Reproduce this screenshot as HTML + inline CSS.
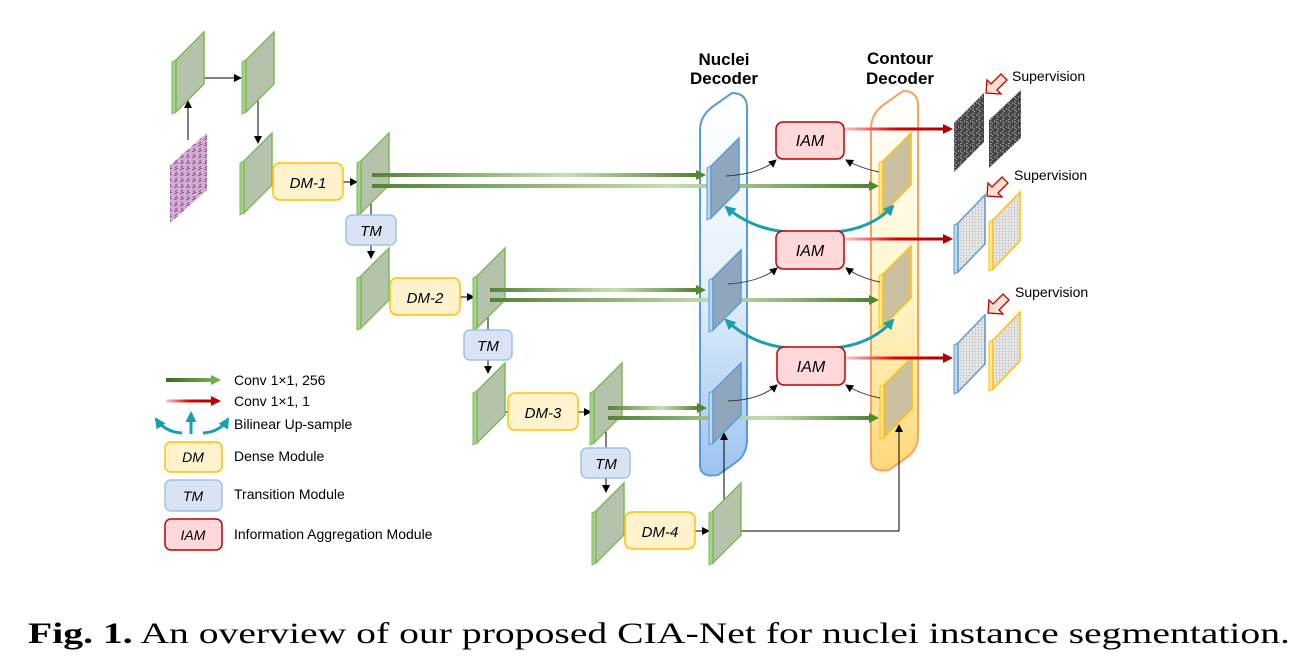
<!DOCTYPE html>
<html><head><meta charset="utf-8"><style>
html,body{margin:0;padding:0;background:#fff}
svg{display:block}
.t{font-family:"Liberation Sans",sans-serif;}
</style></head><body>
<svg width="1316" height="660" viewBox="0 0 1316 660" xmlns="http://www.w3.org/2000/svg">
<defs>
<symbol id="gp" viewBox="0 0 32 80" width="32" height="80" overflow="visible">
 <polygon points="0,30 4,28 4,80 0,82" fill="#a9d08e" stroke="#7dbb55" stroke-width="1"/>
 <polygon points="4,28 32,0 32,52 4,80" fill="#b5c3ad" stroke="#7dbb55" stroke-width="1.5"/>
</symbol>
<symbol id="bp" viewBox="0 0 32 80" width="32" height="80" overflow="visible">
 <polygon points="0,30 4,28 4,80 0,82" fill="#bdd7ee" stroke="#5b9bd5" stroke-width="1"/>
 <polygon points="4,28 32,0 32,52 4,80" fill="#8fa6bd" stroke="#5b9bd5" stroke-width="1.5"/>
</symbol>
<symbol id="yp" viewBox="0 0 32 80" width="32" height="80" overflow="visible">
 <polygon points="0,30 4,28 4,80 0,82" fill="#ffe699" stroke="#ffc000" stroke-width="1"/>
 <polygon points="4,28 32,0 32,52 4,80" fill="#cbc0a0" stroke="#ffc000" stroke-width="1.5"/>
</symbol>
<pattern id="grid" width="3" height="3" patternUnits="userSpaceOnUse"><rect width="3" height="3" fill="#e8e8e8"/><path d="M0 0H3M0 0V3" stroke="#aaa" stroke-width="0.6"/></pattern>
<pattern id="noise" width="6" height="6" patternUnits="userSpaceOnUse"><rect width="6" height="6" fill="#444"/><path d="M0 1L3 4M4 0L5 2M0 5L2 6" stroke="#aaa" stroke-width="0.8"/></pattern>
<pattern id="tissue" width="6" height="6" patternUnits="userSpaceOnUse"><rect width="6" height="6" fill="#d2b0d2"/><path d="M0 2L4 0M1 6L3 4" stroke="#8a4a8a" stroke-width="1"/></pattern>
<linearGradient id="gl" x1="0" x2="1"><stop offset="0" stop-color="#548235"/><stop offset="0.6" stop-color="#c5e0b4"/><stop offset="1" stop-color="#548235"/></linearGradient>
<linearGradient id="gl2" x1="0" x2="1"><stop offset="0" stop-color="#3d6b22"/><stop offset="1" stop-color="#70ad47"/></linearGradient>
<linearGradient id="rl" x1="0" x2="1"><stop offset="0" stop-color="#f8c8c8"/><stop offset="0.5" stop-color="#e00000"/><stop offset="1" stop-color="#b00000"/></linearGradient>
<linearGradient id="nb" x1="0" y1="0" x2="0" y2="1"><stop offset="0" stop-color="#fff"/><stop offset="0.5" stop-color="#e4f0fc"/><stop offset="1" stop-color="#9dc3f0"/></linearGradient>
<linearGradient id="cb" x1="0" y1="0" x2="0" y2="1"><stop offset="0" stop-color="#fff"/><stop offset="0.5" stop-color="#fff7d0"/><stop offset="1" stop-color="#ffd878"/></linearGradient>
<marker id="ak" markerWidth="8" markerHeight="8" refX="7" refY="4" orient="auto" markerUnits="userSpaceOnUse"><path d="M0,0 L8,4 L0,8z" fill="#000"/></marker>
<marker id="ac" markerWidth="11" markerHeight="11" refX="9" refY="5.5" orient="auto" markerUnits="userSpaceOnUse"><path d="M0,0 L11,5.5 L0,11z" fill="#17a0b0"/></marker>
</defs>

<!-- decoders -->
<path d="M700,130 Q700,115 715,105 L732,93 Q747,93 747,108 L747,440 Q747,455 735,463 L718,475 Q700,478 700,465 Z" fill="url(#nb)" stroke="#5b9bd5" stroke-width="2"/>
<path d="M871,128 Q871,113 886,103 L903,91 Q918,91 918,106 L918,435 Q918,450 906,458 L889,470 Q871,473 871,460 Z" fill="url(#cb)" stroke="#f4a460" stroke-width="2"/>
<text x="724" y="65" class="t" font-size="17" font-weight="bold" text-anchor="middle">Nuclei</text>
<text x="724" y="84" class="t" font-size="17" font-weight="bold" text-anchor="middle">Decoder</text>
<text x="900" y="64" class="t" font-size="17" font-weight="bold" text-anchor="middle">Contour</text>
<text x="900" y="84" class="t" font-size="17" font-weight="bold" text-anchor="middle">Decoder</text>

<!-- encoder thin arrows -->
<g stroke="#000" stroke-width="1" fill="none">
<line x1="188" y1="140" x2="188" y2="101" marker-end="url(#ak)"/>
<line x1="188" y1="78" x2="241" y2="78" marker-end="url(#ak)"/>
<line x1="258" y1="100" x2="258" y2="143" marker-end="url(#ak)"/>
<line x1="255" y1="182" x2="273" y2="182"/>
<line x1="343" y1="182" x2="357" y2="182" marker-end="url(#ak)"/>
<line x1="371" y1="200" x2="371" y2="258" marker-end="url(#ak)"/>
<line x1="372" y1="297" x2="390" y2="297"/>
<line x1="460" y1="297" x2="474" y2="297" marker-end="url(#ak)"/>
<line x1="488" y1="316" x2="488" y2="373" marker-end="url(#ak)"/>
<line x1="489" y1="412" x2="508" y2="412"/>
<line x1="578" y1="412" x2="591" y2="412" marker-end="url(#ak)"/>
<line x1="606" y1="430" x2="606" y2="492" marker-end="url(#ak)"/>
<line x1="607" y1="531" x2="625" y2="531"/>
<line x1="695" y1="531" x2="709" y2="531" marker-end="url(#ak)"/>
<line x1="724" y1="500" x2="724" y2="433" marker-end="url(#ak)"/>
<line x1="724" y1="531" x2="899" y2="531"/>
<line x1="899" y1="531" x2="899" y2="425" marker-end="url(#ak)"/>
</g>

<!-- plates encoder -->
<use href="#gp" x="172" y="32"/>
<use href="#gp" x="242" y="32"/>
<polygon points="170,165 207,133 207,190 170,223" fill="url(#tissue)"/>
<use href="#gp" x="240" y="133"/>
<use href="#gp" x="357" y="133"/>
<use href="#gp" x="357" y="248"/>
<use href="#gp" x="473" y="248"/>
<use href="#gp" x="473" y="363"/>
<use href="#gp" x="590" y="363"/>
<use href="#gp" x="592" y="483"/>
<use href="#gp" x="709" y="483"/>

<!-- modules -->
<g class="t" font-size="15" font-style="italic" text-anchor="middle">
<rect x="273" y="163" width="70" height="37" rx="7" fill="#fff2cc" stroke="#ffc000" stroke-width="1.5"/><text x="308" y="188">DM-1</text>
<rect x="390" y="278" width="70" height="37" rx="7" fill="#fff2cc" stroke="#ffc000" stroke-width="1.5"/><text x="425" y="303">DM-2</text>
<rect x="508" y="393" width="70" height="37" rx="7" fill="#fff2cc" stroke="#ffc000" stroke-width="1.5"/><text x="543" y="418">DM-3</text>
<rect x="625" y="512" width="70" height="37" rx="7" fill="#fff2cc" stroke="#ffc000" stroke-width="1.5"/><text x="660" y="537">DM-4</text>
<rect x="346" y="215" width="50" height="30" rx="6" fill="#dae3f3" stroke="#9dc3e6" stroke-width="1.5"/><text x="371" y="236">TM</text>
<rect x="464" y="330" width="48" height="30" rx="6" fill="#dae3f3" stroke="#9dc3e6" stroke-width="1.5"/><text x="488" y="351">TM</text>
<rect x="581" y="448" width="49" height="30" rx="6" fill="#dae3f3" stroke="#9dc3e6" stroke-width="1.5"/><text x="606" y="469">TM</text>
</g>

<!-- green thick arrows (rects) -->
<g fill="url(#gl)">
<rect x="372" y="173" width="325" height="4"/>
<rect x="372" y="184" width="498" height="4"/>
<rect x="490" y="288" width="207" height="4"/>
<rect x="490" y="298" width="380" height="4"/>
<rect x="608" y="406" width="90" height="4"/>
<rect x="608" y="416" width="262" height="4"/>
</g>
<g fill="#4f8a2a">
<polygon points="696,170 706,175 696,180"/>
<polygon points="869,181 879,186 869,191"/>
<polygon points="696,285 706,290 696,295"/>
<polygon points="869,295 879,300 869,305"/>
<polygon points="697,403 707,408 697,413"/>
<polygon points="869,413 879,418 869,423"/>
</g>

<!-- decoder plates -->
<use href="#bp" x="707" y="138"/>
<use href="#bp" x="709" y="250"/>
<use href="#bp" x="709" y="363"/>
<use href="#yp" x="879" y="133"/>
<use href="#yp" x="879" y="246"/>
<use href="#yp" x="880" y="357"/>

<!-- thin curves to IAM -->
<g stroke="#333" stroke-width="0.9" fill="none">
<path d="M726,176 Q760,174 776,160" marker-end="url(#ak)"/>
<path d="M879,172 Q860,168 846,160" marker-end="url(#ak)"/>
<path d="M728,284 Q760,282 777,268" marker-end="url(#ak)"/>
<path d="M880,282 Q860,278 846,268" marker-end="url(#ak)"/>
<path d="M728,401 Q760,400 777,385" marker-end="url(#ak)"/>
<path d="M880,398 Q860,394 846,385" marker-end="url(#ak)"/>
</g>

<!-- cyan upsample -->
<g stroke="#17a0b0" stroke-width="3" fill="none">
<path d="M810,232 Q760,236 726,207" marker-end="url(#ac)"/>
<path d="M810,232 Q865,236 893,206" marker-end="url(#ac)"/>
<path d="M810,348 Q760,352 726,320" marker-end="url(#ac)"/>
<path d="M810,348 Q865,352 893,320" marker-end="url(#ac)"/>
</g>

<!-- IAM -->
<g class="t" font-size="16" font-style="italic" text-anchor="middle">
<rect x="776" y="122" width="68" height="37" rx="7" fill="#ffd9d9" stroke="#c00000" stroke-width="1.5"/><text x="810" y="146">IAM</text>
<rect x="776" y="231" width="68" height="38" rx="7" fill="#ffd9d9" stroke="#c00000" stroke-width="1.5"/><text x="810" y="256">IAM</text>
<rect x="777" y="347" width="68" height="38" rx="7" fill="#ffd9d9" stroke="#c00000" stroke-width="1.5"/><text x="811" y="372">IAM</text>
</g>

<!-- red arrows -->
<g fill="url(#rl)">
<rect x="845" y="127.5" width="100" height="3"/>
<rect x="845" y="237.5" width="100" height="3"/>
<rect x="846" y="356.5" width="99" height="3"/>
</g>
<g fill="#b00000">
<polygon points="943,124 953,129 943,134"/>
<polygon points="943,234 953,239 943,244"/>
<polygon points="943,353 953,358 943,363"/>
</g>

<!-- outputs -->
<polygon points="954,123 984,93 984,142 954,172" fill="url(#noise)"/>
<polygon points="989,120 1021,90 1021,138 989,168" fill="url(#noise)"/>
<g>
<polygon points="954,225 958,223 958,272 954,274" fill="#bdd7ee" stroke="#5b9bd5"/>
<polygon points="958,223 985,195 985,244 958,272" fill="url(#grid)" stroke="#5b9bd5" stroke-width="1.5"/>
<polygon points="989,222 993,220 993,269 989,271" fill="#ffe699" stroke="#ffc000"/>
<polygon points="993,220 1020,192 1020,241 993,269" fill="url(#grid)" stroke="#ffc000" stroke-width="1.5"/>
<polygon points="954,345 958,343 958,392 954,394" fill="#bdd7ee" stroke="#5b9bd5"/>
<polygon points="958,343 985,315 985,364 958,392" fill="url(#grid)" stroke="#5b9bd5" stroke-width="1.5"/>
<polygon points="989,342 993,340 993,389 989,391" fill="#ffe699" stroke="#ffc000"/>
<polygon points="993,340 1020,312 1020,361 993,389" fill="url(#grid)" stroke="#ffc000" stroke-width="1.5"/>
</g>
<!-- supervision arrows -->
<g fill="#fbe0d0" stroke="#c00000" stroke-width="1.3">
<path d="M986,93 L987,80 L991,84 L1001,74 L1007,80 L997,90 L1001,94 Z"/>
<path d="M987,196 L988,183 L992,187 L1002,177 L1008,183 L998,193 L1002,197 Z"/>
<path d="M988,313 L989,300 L993,304 L1003,294 L1009,300 L999,310 L1003,314 Z"/>
</g>
<g class="t" font-size="14">
<text x="1012" y="81">Supervision</text>
<text x="1014" y="180">Supervision</text>
<text x="1015" y="297">Supervision</text>
</g>

<!-- legend -->
<rect x="166" y="378" width="46" height="4" fill="url(#gl2)"/>
<polygon points="211,375 221,380 211,385" fill="#70ad47"/>
<rect x="166" y="399.5" width="46" height="3" fill="url(#rl)"/>
<polygon points="211,396 221,401 211,406" fill="#c00000"/>
<g stroke="#17a0b0" stroke-width="3" fill="none">
<line x1="191" y1="434" x2="191" y2="413" marker-end="url(#ac)"/>
<path d="M182,433 Q165,432 156,419" marker-end="url(#ac)"/>
<path d="M203,433 Q220,432 228,419" marker-end="url(#ac)"/>
</g>
<g class="t" font-size="14" font-style="italic" text-anchor="middle">
<rect x="165" y="442" width="57" height="30" rx="6" fill="#fff2cc" stroke="#ffc000" stroke-width="1.5"/><text x="193" y="462">DM</text>
<rect x="165" y="480" width="57" height="31" rx="6" fill="#dae3f3" stroke="#9dc3e6" stroke-width="1.5"/><text x="193" y="501">TM</text>
<rect x="165" y="519" width="57" height="31" rx="6" fill="#ffd9d9" stroke="#c00000" stroke-width="1.5"/><text x="193" y="540">IAM</text>
</g>
<g class="t" font-size="14">
<text x="234" y="385">Conv 1×1, 256</text>
<text x="234" y="406">Conv 1×1, 1</text>
<text x="234" y="429">Bilinear Up-sample</text>
<text x="234" y="461">Dense Module</text>
<text x="234" y="499">Transition Module</text>
<text x="234" y="539">Information Aggregation Module</text>
</g>

<text x="28" y="643" font-family="Liberation Serif, serif" font-size="29.5" textLength="1262" lengthAdjust="spacingAndGlyphs"><tspan font-weight="bold">Fig. 1.</tspan> An overview of our proposed CIA-Net for nuclei instance segmentation.</text>
</svg>
</body></html>
